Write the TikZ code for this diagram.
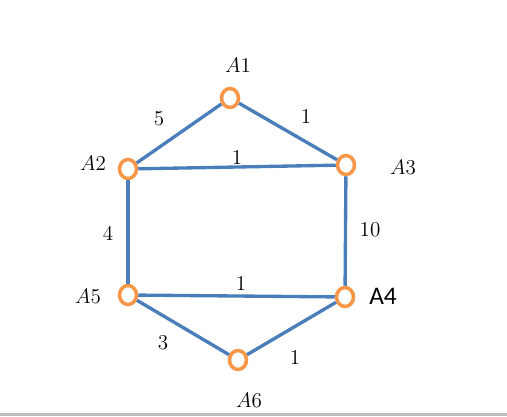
\documentclass[tikz,border=0pt]{standalone}
\usepackage{fontspec}
\newfontfamily\calib{Carlito}
\usetikzlibrary{positioning,shapes.geometric}
\definecolor{edgeblue}{HTML}{4A7EBB}
\definecolor{vorange}{HTML}{F79646}

\begin{document}
\begin{tikzpicture}[x=0.02cm,y=-0.02cm]

\tikzset{vertex/.style = {shape=ellipse,draw=vorange,fill=white,line width=2pt,minimum width=0.34cm,minimum height=0.38cm,inner sep=0pt}}
\tikzset{edge/.style = {draw=edgeblue,line width=1.9pt}}
\tikzset{weight/.style = {font=\large}}
\useasboundingbox (0,0) rectangle (507,416);
\fill[black!25] (0,413) rectangle (507,416);
%verticies
\node[vertex] (1) at (230,98) {};
\node[vertex] (2) at (128,169) {};
\node[vertex] (3) at (346,165) {};
\node[vertex] (4) at (345,297) {};
\node[vertex] (5) at (128,295) {};
\node[vertex] (6) at (238,360) {};
%names
\node[font=\large] (n1) at (238,65) {$A1$};
\node[font=\large] (n2) at (93,163) {$A2$};
\node[font=\large] (n3) at (403,167) {$A3$};
\node[font=\Large\calib] (n4) at (383,296) {A4};
\node[font=\large] (n5) at (88,296) {$A5$};
\node[font=\large] (n6) at (249,400) {$A6$};
%edges
\path[edge] (1) -- (2);
\path[edge] (1) -- (3);
\path[edge] (2) -- (3);
\path[edge] (2) -- (5);
\path[edge] (3) -- (4);
\path[edge] (5) -- (4);
\path[edge] (5) -- (6);
\path[edge] (6) -- (4);
%weights
\node[weight] (w12) at (159,119) {5};
\node[weight] (w13) at (306,116) {1};
\node[weight] (w23) at (237,157) {1};
\node[weight] (w25) at (108,233) {4};
\node[weight] (w34) at (370,230) {10};
\node[weight] (w54) at (241,283) {1};
\node[weight] (w56) at (163,343) {3};
\node[weight] (w64) at (295,357) {1};

\end{tikzpicture}
\end{document}
